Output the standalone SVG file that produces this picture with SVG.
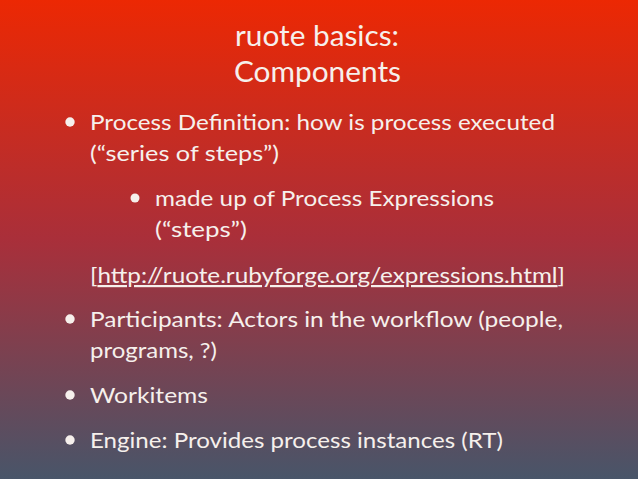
<svg xmlns="http://www.w3.org/2000/svg" width="638" height="479" viewBox="0 0 638 479">
  <defs>
    <linearGradient id="bg" x1="0" y1="0" x2="0" y2="1">
      <stop offset="0" stop-color="#ec2803"/>
      <stop offset="0.5" stop-color="#a92f3a"/>
      <stop offset="1" stop-color="#485569"/>
    </linearGradient>
  </defs>
  <style>
    text { font-family: "Lato", "Open Sans", "Liberation Sans", sans-serif; fill: #f6f0ec; }
    .title { font-size: 28px; text-anchor: middle; }
    .body { font-size: 22px; }
    .dot { fill: #f6f0ec; }
  </style>
  <rect width="638" height="479" fill="url(#bg)"/>
  <g id="title">
    <text class="title" x="317" y="46" textLength="164" lengthAdjust="spacingAndGlyphs">ruote basics:</text>
    <text class="title" x="317.5" y="82" textLength="167" lengthAdjust="spacingAndGlyphs">Components</text>
  </g>
  <g id="bullet-process-definition">
    <circle class="dot" cx="70" cy="122" r="4.7"/>
    <text class="body" x="90" y="130" textLength="465" lengthAdjust="spacingAndGlyphs">Process Definition: how is process executed</text>
    <text class="body" x="90" y="161" textLength="189" lengthAdjust="spacingAndGlyphs">(“series of steps”)</text>
  </g>
  <g id="bullet-process-expressions">
    <circle class="dot" cx="135" cy="198" r="4.5"/>
    <text class="body" x="155" y="206" textLength="339" lengthAdjust="spacingAndGlyphs">made up of Process Expressions</text>
    <text class="body" x="155" y="237" textLength="92" lengthAdjust="spacingAndGlyphs">(“steps”)</text>
  </g>
  <g id="link">
    <text class="body" x="90" y="283" textLength="475" lengthAdjust="spacingAndGlyphs">[<tspan text-decoration="underline">http://ruote.rubyforge.org/expressions.html</tspan>]</text>
  </g>
  <g id="bullet-participants">
    <circle class="dot" cx="70" cy="319" r="4.7"/>
    <text class="body" x="90" y="327" textLength="473" lengthAdjust="spacingAndGlyphs">Participants: Actors in the workflow (people,</text>
    <text class="body" x="90" y="358" textLength="127" lengthAdjust="spacingAndGlyphs">programs, ?)</text>
  </g>
  <g id="bullet-workitems">
    <circle class="dot" cx="70" cy="395" r="4.7"/>
    <text class="body" x="90" y="403" textLength="118" lengthAdjust="spacingAndGlyphs">Workitems</text>
  </g>
  <g id="bullet-engine">
    <circle class="dot" cx="70" cy="440" r="4.7"/>
    <text class="body" x="90" y="448" textLength="413" lengthAdjust="spacingAndGlyphs">Engine: Provides process instances (RT)</text>
  </g>
</svg>
